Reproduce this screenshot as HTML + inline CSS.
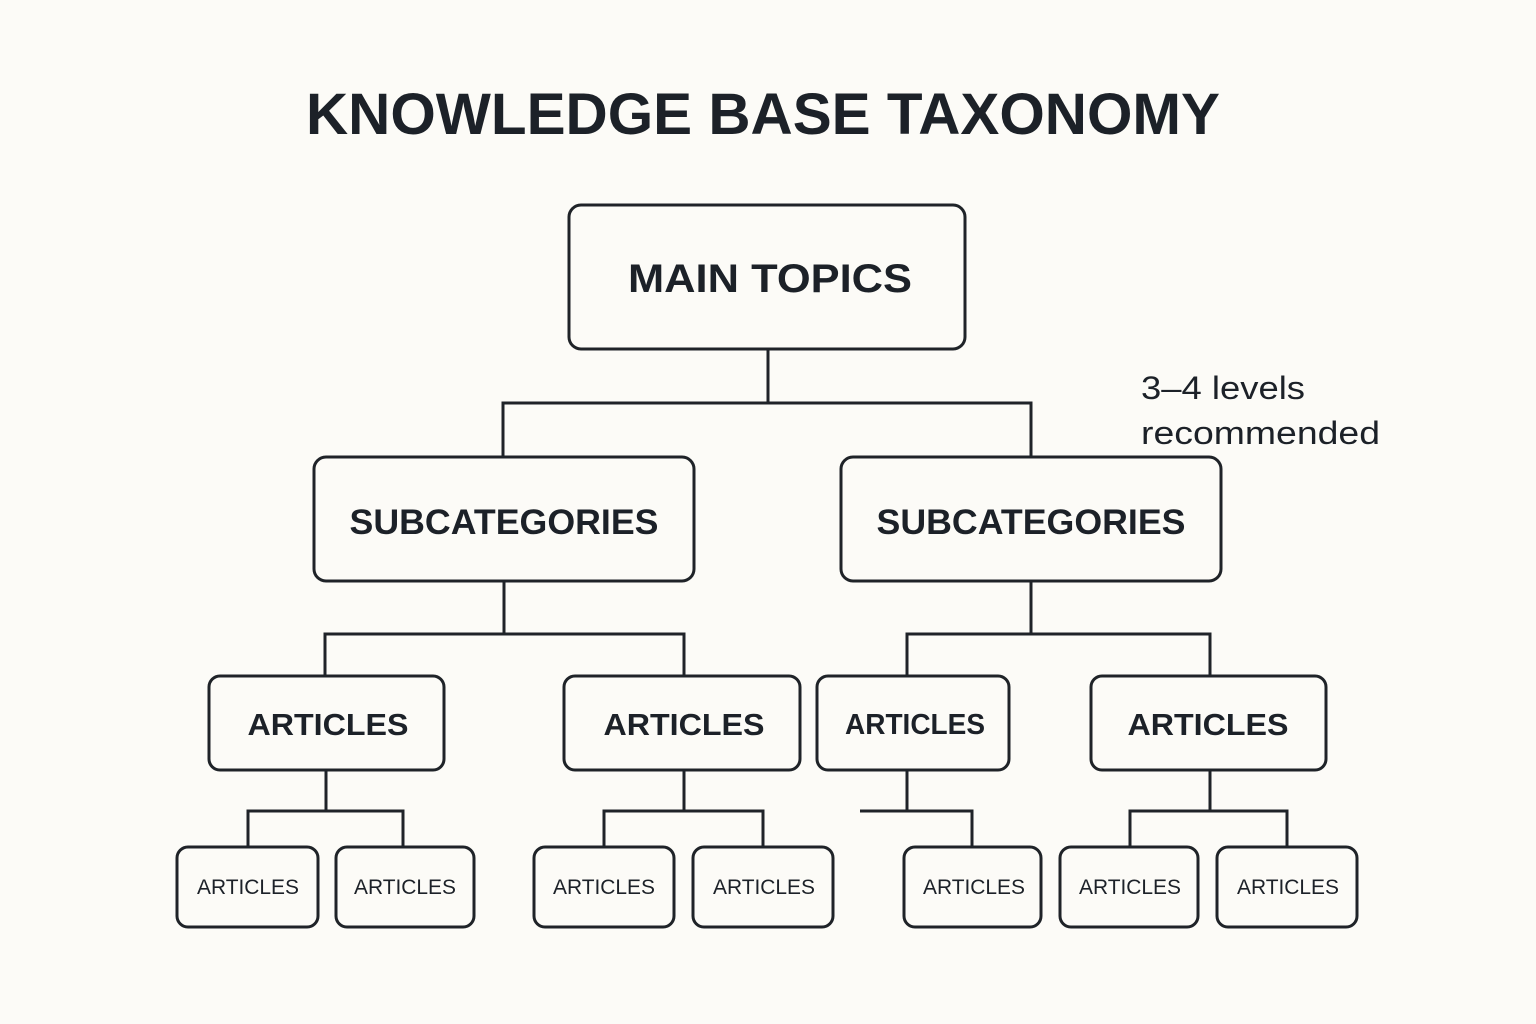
<!DOCTYPE html>
<html><head><meta charset="utf-8"><style>
html,body{margin:0;padding:0;background:#fcfbf7;}
svg{display:block}
text{font-family:"Liberation Sans",sans-serif;fill:#1c2128;}
</style></head><body>
<svg width="1536" height="1024" viewBox="0 0 1536 1024" xmlns="http://www.w3.org/2000/svg">
<rect width="1536" height="1024" fill="#fcfbf7"/>
<text x="763" y="134" font-size="58" font-weight="bold" text-anchor="middle" textLength="914" lengthAdjust="spacingAndGlyphs">KNOWLEDGE BASE TAXONOMY</text>
<g fill="none" stroke="#1f2328" stroke-width="3">
<rect x="569" y="205" width="396" height="144" rx="12"/>
<rect x="314" y="457" width="380" height="124" rx="12"/>
<rect x="841" y="457" width="380" height="124" rx="12"/>
<rect x="209" y="676" width="235" height="94" rx="11"/>
<rect x="564" y="676" width="236" height="94" rx="11"/>
<rect x="817" y="676" width="192" height="94" rx="11"/>
<rect x="1091" y="676" width="235" height="94" rx="11"/>
<rect x="177" y="847" width="141" height="80" rx="11"/>
<rect x="336" y="847" width="138" height="80" rx="11"/>
<rect x="534" y="847" width="140" height="80" rx="11"/>
<rect x="693" y="847" width="140" height="80" rx="11"/>
<rect x="904" y="847" width="137" height="80" rx="11"/>
<rect x="1060" y="847" width="138" height="80" rx="11"/>
<rect x="1217" y="847" width="140" height="80" rx="11"/>
<path d="M768 349V403M503 457V403H1031V457"/>
<path d="M504 581V634M325 676V634H684V676"/>
<path d="M1031 581V634M907 676V634H1210V676"/>
<path d="M326 770V811M248 847V811H403V847"/>
<path d="M684 770V811M604 847V811H763V847"/>
<path d="M907 770V811M860 811H972V847"/>
<path d="M1210 770V811M1130 847V811H1287V847"/>
</g>
<g font-weight="bold" text-anchor="middle" lengthAdjust="spacingAndGlyphs">
<text x="770" y="292" font-size="40" textLength="284" lengthAdjust="spacingAndGlyphs">MAIN TOPICS</text>
<text x="504" y="534" font-size="35" textLength="309" lengthAdjust="spacingAndGlyphs">SUBCATEGORIES</text>
<text x="1031" y="534" font-size="35" textLength="309" lengthAdjust="spacingAndGlyphs">SUBCATEGORIES</text>
<text x="328" y="735" font-size="31" textLength="161" lengthAdjust="spacingAndGlyphs">ARTICLES</text>
<text x="684" y="735" font-size="31" textLength="161" lengthAdjust="spacingAndGlyphs">ARTICLES</text>
<text x="915" y="734" font-size="29" textLength="140" lengthAdjust="spacingAndGlyphs">ARTICLES</text>
<text x="1208" y="735" font-size="31" textLength="161" lengthAdjust="spacingAndGlyphs">ARTICLES</text>
</g>
<g font-size="21" text-anchor="middle" font-weight="500">
<text x="248" y="894" textLength="102" lengthAdjust="spacingAndGlyphs">ARTICLES</text>
<text x="405" y="894" textLength="102" lengthAdjust="spacingAndGlyphs">ARTICLES</text>
<text x="604" y="894" textLength="102" lengthAdjust="spacingAndGlyphs">ARTICLES</text>
<text x="764" y="894" textLength="102" lengthAdjust="spacingAndGlyphs">ARTICLES</text>
<text x="974" y="894" textLength="102" lengthAdjust="spacingAndGlyphs">ARTICLES</text>
<text x="1130" y="894" textLength="102" lengthAdjust="spacingAndGlyphs">ARTICLES</text>
<text x="1288" y="894" textLength="102" lengthAdjust="spacingAndGlyphs">ARTICLES</text>
</g>
<text x="1141" y="399" font-size="32" textLength="164" lengthAdjust="spacingAndGlyphs">3–4 levels</text>
<text x="1141" y="444" font-size="32" textLength="239" lengthAdjust="spacingAndGlyphs">recommended</text>
</svg>
</body></html>
